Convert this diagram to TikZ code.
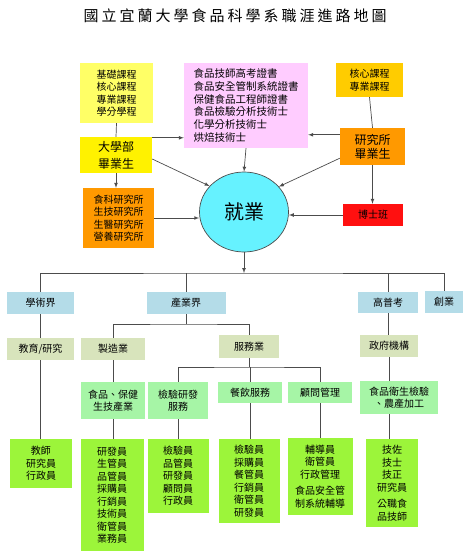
\documentclass[tikz,border=0pt]{standalone}
\usepackage{fontspec}
\setmainfont{Noto Sans CJK TC}
\usetikzlibrary{shapes.geometric}
\definecolor{paleyellow}{HTML}{FFFF66}
\definecolor{certpink}{HTML}{FFCCFF}
\definecolor{coursegold}{HTML}{FFCC00}
\definecolor{gradorange}{HTML}{FF9900}
\definecolor{phdred}{HTML}{FF1010}
\definecolor{empcyan}{HTML}{66F2FF}
\definecolor{areablue}{HTML}{B4DCE8}
\definecolor{fieldolive}{HTML}{D8E4BC}
\definecolor{sectormint}{HTML}{A6F5A6}
\definecolor{rolelime}{HTML}{9CF53A}
\begin{document}
\begin{tikzpicture}[x=1pt,y=1pt,>=latex,
  bx/.style={inner sep=0pt, align=center, font=\fontsize{10}{12.5}\selectfont},
  bigbx/.style={bx, font=\fontsize{12}{14}\selectfont},
  areabox/.style={bx, fill=areablue},
  fieldbox/.style={bx, fill=fieldolive},
  sectorbox/.style={bx, fill=sectormint},
  rolebox/.style={bx, fill=rolelime},
  conn/.style={draw=black!70, line width=0.7pt}]
\useasboundingbox (0,0) rectangle (474,-559);
\node[font=\fontsize{15}{18}\selectfont\addfontfeature{LetterSpace=20}] (t) at (235,-16) {國立宜蘭大學食品科學系職涯進路地圖};
% upper part
\node[bx, fill=paleyellow, minimum width=73, minimum height=60] (ugc) at (116.5,-93) {基礎課程\\核心課程\\專業課程\\學分學程};
\node[bx, fill=certpink, align=left, minimum width=124, minimum height=85, font=\fontsize{10.5}{12.7}\selectfont] (cert) at (246,-105.5) {食品技師高考證書\\食品安全管制系統證書\\保健食品工程師證書\\食品檢驗分析技術士\\化學分析技術士\\烘焙技術士};
\node[bx, fill=coursegold, minimum width=67, minimum height=34] (grc) at (369.5,-80) {核心課程\\專業課程};
\node[bigbx, fill=yellow, minimum width=72, minimum height=36, font=\fontsize{12}{17}\selectfont] (ug) at (116,-155) {大學部\\畢業生};
\node[bigbx, fill=gradorange, minimum width=65, minimum height=37] (gr) at (372.5,-146.5) {研究所\\畢業生};
\node[bx, fill=gradorange, minimum width=71, minimum height=60] (gi) at (118.5,-218) {食科研究所\\生技研究所\\生醫研究所\\營養研究所};
\node[bx, fill=phdred, minimum width=60, minimum height=22] (phd) at (373,-215) {博士班};
\node[ellipse, draw=black!70, line width=0.7pt, fill=empcyan, minimum width=89, minimum height=80, inner sep=0pt, font=\fontsize{20}{24}\selectfont] (emp) at (244,-212) {就業};
\draw[conn] (ugc.south) -- (ug.north);
\draw[conn] (grc.south) -- (gr.north);
\draw[conn,->] ([yshift=-1]ug.north east) -- ([yshift=-1]ug.north east -| cert.west);
\draw[conn,->] ([yshift=-7]gr.north west) -- ([yshift=-7]gr.north west -| cert.east);
\draw[conn,->] (cert.south) -- (emp.north);
\draw[conn,->] ([yshift=-4]ug.east) -- (emp.143);
\draw[conn,->] ([yshift=7]gr.south west) -- (emp.36);
\draw[conn,->] (ug.south) -- (ug.south |- gi.north);
\draw[conn,->] (gi.east) -- (gi.east -| emp.west);
\draw[conn,->] (gr.south) -- (gr.south |- phd.north);
\draw[conn,->] (phd.west) -- (phd.west -| emp.east);
% career paths
\coordinate (h) at (244,-273);
\node[areabox, minimum width=67, minimum height=22] (acad) at (40.5,-303) {學術界};
\node[areabox, minimum width=79, minimum height=22] (ind) at (186,-303) {產業界};
\node[areabox, minimum width=60, minimum height=21] (exam) at (388,-302.5) {高普考};
\node[areabox, minimum width=38, minimum height=22] (start) at (444,-302) {創業};
\draw[conn,->] (emp.south) -- (h);
\draw[conn] (acad.north) |- (h) -| (start.north);
\draw[conn] (ind.north) -- (ind.north |- h);
\draw[conn] (exam.north) -- (exam.north |- h);
\node[fieldbox, minimum width=67, minimum height=22] (edu) at (40.5,-349) {教育/研究};
\node[fieldbox, minimum width=64, minimum height=22] (mfg) at (113,-349) {製造業};
\node[fieldbox, minimum width=60, minimum height=23] (svc) at (249,-346.5) {服務業};
\node[fieldbox, minimum width=58, minimum height=22] (gov) at (389,-346) {政府機構};
\coordinate (ib) at (186,-324);
\draw[conn] (acad.south) -- (edu.north);
\draw[conn] (ind.south) -- (ib);
\draw[conn] (mfg.north) |- (ib) -| (svc.north);
\draw[conn] (exam.south) -- (exam.south |- gov.north);
\node[sectorbox, minimum width=64, minimum height=37] (hlth) at (113,-400.5) {食品、保健\\生技產業};
\node[sectorbox, minimum width=60, minimum height=37] (test) at (178,-400.5) {檢驗研發\\服務};
\node[sectorbox, minimum width=64, minimum height=21] (food) at (250,-392.5) {餐飲服務};
\node[sectorbox, minimum width=64, minimum height=21] (cons) at (320,-392.5) {顧問管理};
\node[sectorbox, minimum width=78, minimum height=33] (hyg) at (399,-397.5) {食品衛生檢驗\\、農產加工};
\coordinate (sb) at (249,-367);
\draw[conn] (mfg.south) -- (mfg.south |- hlth.north);
\draw[conn] (svc.south) -- (sb);
\draw[conn] (test.north) |- (sb) -| (cons.north);
\draw[conn] (food.north) -- (food.north |- sb);
\draw[conn] (gov.south) -- (gov.south |- hyg.north);
\node[rolebox, minimum width=62, minimum height=49] (tch) at (41,-463.5) {教師\\研究員\\行政員};
\node[rolebox, minimum width=63, minimum height=112] (rd) at (112,-495) {研發員\\生管員\\品管員\\採購員\\行銷員\\技術員\\衛管員\\業務員};
\node[rolebox, minimum width=61, minimum height=74] (ins) at (178,-476) {檢驗員\\品管員\\研發員\\顧問員\\行政員};
\node[rolebox, minimum width=61, minimum height=84] (fsr) at (249,-481) {檢驗員\\採購員\\餐管員\\行銷員\\衛管員\\研發員};
\node[rolebox, minimum width=65, minimum height=77] (adv) at (320,-476.5) {輔導員\\衛管員\\行政管理\\[4pt]食品安全管\\制系統輔導};
\node[rolebox, minimum width=52, minimum height=88] (civ) at (392,-483) {技佐\\技士\\技正\\研究員\\[4pt]公職食\\品技師};
\draw[conn] (edu.south) -- (edu.south |- tch.north);
\draw[conn] (hlth.south) -- (hlth.south |- rd.north);
\draw[conn] (test.south) -- (test.south |- ins.north);
\draw[conn] (food.south) -- (food.south |- fsr.north);
\draw[conn] (cons.south) -- (cons.south |- adv.north);
\draw[conn] (gov.south |- hyg.south) -- (gov.south |- civ.north);
\end{tikzpicture}
\end{document}
